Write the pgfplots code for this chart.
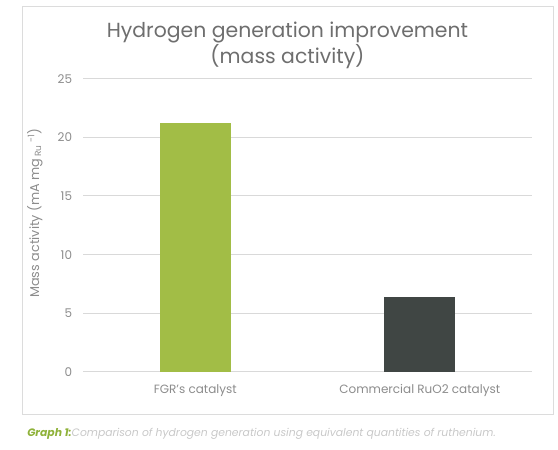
\documentclass[border=0pt]{standalone}
\usepackage{fontspec}
\setmainfont{Poppins}
\usepackage{pgfplots}
\pgfplotsset{compat=1.18}

\definecolor{barGreen}{RGB}{162,189,70}
\definecolor{barDark}{RGB}{64,70,68}
\definecolor{gridGray}{RGB}{217,217,217}
\definecolor{frameGray}{RGB}{220,220,220}
\definecolor{tickGray}{RGB}{140,140,140}
\definecolor{titleGray}{RGB}{110,110,110}
\definecolor{capGreen}{RGB}{143,178,58}
\definecolor{capGray}{RGB}{200,200,200}

\begin{document}
\begin{tikzpicture}
% page is 558x450 px, 1px = 0.75pt, y measured from the bottom
\path[use as bounding box] (0,0) rectangle (418.5pt,337.5pt);
\draw[frameGray, line width=0.75pt] (16.5pt,26.25pt) rectangle (414.75pt,332.25pt);

\begin{axis}[
  at={(62.25pt,58.5pt)}, anchor=south west,
  scale only axis,
  width=336.75pt, height=220pt,
  xmin=-0.5, xmax=1.5,
  ymin=0, ymax=25,
  ytick={0,5,10,15,20,25},
  xtick={0,1},
  xticklabels={FGR's catalyst, Commercial RuO2 catalyst},
  axis line style={draw=none},
  major tick length=0pt,
  ymajorgrids,
  grid style={gridGray, line width=0.75pt},
  /pgf/number format/assume math mode=true,
  tick label style={tickGray, font=\fontsize{9}{11}\selectfont},
  yticklabel style={inner sep=0pt, anchor=east, xshift=-8pt},
  xticklabel style={inner sep=0pt, anchor=north, yshift=-9pt},
  clip=false,
]
\addplot[ybar, bar width=53.25pt, bar shift=0pt, fill=barGreen, draw=none]
  coordinates {(0,21.2)};
\addplot[ybar, bar width=53.25pt, bar shift=0pt, fill=barDark, draw=none]
  coordinates {(1,6.4)};
\end{axis}

% title
\node[titleGray, font=\fontsize{15.3}{19}\selectfont, align=center]
  at (215.6pt,313.5pt) {Hydrogen generation improvement};
\node[titleGray, font=\fontsize{15.3}{19}\selectfont, align=center]
  at (215.6pt,295pt) {(mass activity)};

% y label
\node[tickGray, font=\fontsize{9.6}{11}\selectfont, rotate=90]
  at (26.25pt,177.75pt) {Mass activity (mA mg\,\textsubscript{Ru}\,\textsuperscript{-1})};

% caption
\node[anchor=west, inner sep=0pt, font=\fontsize{8.1}{10}\selectfont\itshape]
  at (20.25pt,12pt) {\textcolor{capGreen}{\bfseries Graph 1:}\textcolor{capGray}{Comparison of hydrogen generation using equivalent quantities of ruthenium.}};
\end{tikzpicture}
\end{document}
